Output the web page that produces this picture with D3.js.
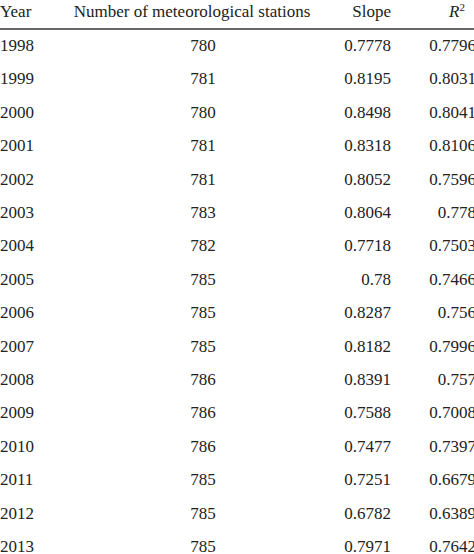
<!DOCTYPE html><html><head><meta charset="utf-8"><script src="https://d3js.org/d3.v7.min.js"></script>
<style>body{margin:0;background:#fff}</style></head><body><script>
const years=["1998","1999","2000","2001","2002","2003","2004","2005","2006","2007","2008","2009","2010","2011","2012","2013"];
const stations=["780","781","780","781","781","783","782","785","785","785","786","786","786","785","785","785"];
const slopes=["0.7778","0.8195","0.8498","0.8318","0.8052","0.8064","0.7718","0.78","0.8287","0.8182","0.8391","0.7588","0.7477","0.7251","0.6782","0.7971"];
const r2=["0.7796","0.8031","0.8041","0.8106","0.7596","0.778","0.7503","0.7466","0.756","0.7996","0.757","0.7008","0.7397","0.6679","0.6389","0.7642"];
const W=474,H=554;
const svg=d3.select("body").append("svg").attr("width",W).attr("height",H).style("font-family","'Liberation Serif','Times New Roman',serif").style("font-size","17px").attr("fill","#222");
const y=d3.scaleLinear().domain([0,15]).range([51,552]);
const hy=17;
svg.append("text").attr("x",0).attr("y",hy).text("Year");
svg.append("text").attr("x",192).attr("y",hy).attr("text-anchor","middle").text("Number of meteorological stations");
svg.append("text").attr("x",391).attr("y",hy).attr("text-anchor","end").text("Slope");
const rt=svg.append("text").attr("x",465).attr("y",hy).attr("text-anchor","end");
rt.append("tspan").attr("font-style","italic").text("R");
rt.append("tspan").attr("dy",-6).attr("font-size","11px").text("2");
svg.append("line").attr("x1",0).attr("x2",W).attr("y1",29).attr("y2",29).attr("stroke","#333").attr("stroke-width",1.3);
const g=svg.selectAll("g.r").data(years).join("g").attr("transform",(d,i)=>`translate(0,${y(i)})`);
g.append("text").attr("x",0).text(d=>d);
g.append("text").attr("x",203).attr("text-anchor","middle").text((d,i)=>stations[i]);
g.append("text").attr("x",391).attr("text-anchor","end").text((d,i)=>slopes[i]);
g.append("text").attr("x",476).attr("text-anchor","end").text((d,i)=>r2[i]);
</script></body></html>
